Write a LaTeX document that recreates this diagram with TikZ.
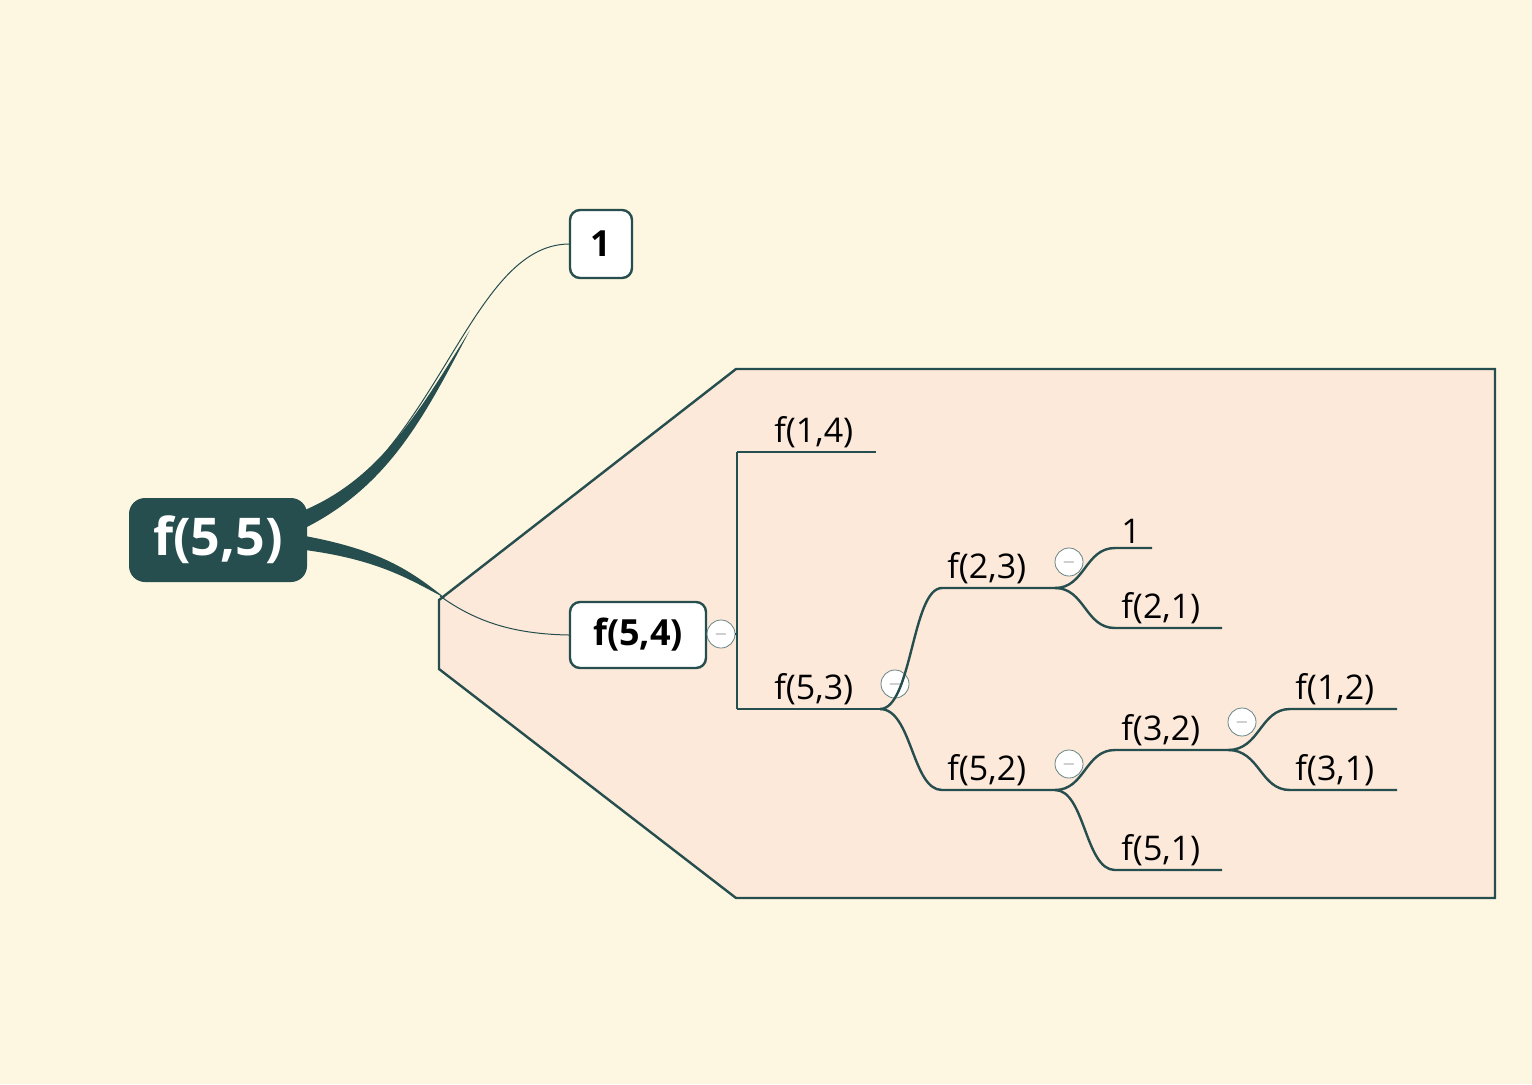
\documentclass[tikz,border=0pt]{standalone}
\usepackage{fontspec}
\setmainfont{Open Sans}
\usetikzlibrary{positioning}
\definecolor{bgcol}{RGB}{253,247,226}
\definecolor{darkteal}{RGB}{38,78,78}
\definecolor{boundcol}{RGB}{252,233,218}
\tikzset{
  topic/.style={anchor=south west,inner sep=2pt,font=\fontsize{17}{20}\selectfont},
  boxtopic/.style={draw=darkteal,line width=1.2pt,fill=white,rounded corners=5pt,font=\bfseries\fontsize{18}{20}\selectfont,inner sep=0pt},
  fold/.style={circle,draw=darkteal!70,fill=white,minimum size=14pt,inner sep=0pt,line width=0.4pt,font=\fontsize{8}{8}\selectfont,text=gray},
  branch/.style={draw=darkteal,line width=1.2pt},
}
\begin{document}
\begin{tikzpicture}[x=0.5pt,y=-0.5pt]
\fill[bgcol] (0,0) rectangle (1532,1084);
\useasboundingbox (0,0) rectangle (1532,1084);
% boundary
\draw[darkteal,line width=1.2pt,fill=boundcol] (736,369) -- (1495,369) -- (1495,898) -- (736,898) -- (439,669) -- (439,600) -- cycle;
% main nodes
\node[fill=darkteal,rounded corners=8pt,minimum width=89pt,minimum height=42pt,text=white,font=\bfseries\fontsize{26}{28}\selectfont] (root) at (218,540) {f(5,5)};
\node[boxtopic,minimum width=31pt,minimum height=34pt] (one) at (601,244) {1};
\node[boxtopic,minimum width=68pt,minimum height=33pt] (f54) at (638,635) {f(5,4)};
% tapered branches
\fill[darkteal] (300,512) .. controls (380,480) and (420,410) .. (470,330) .. controls (425,415) and (390,485) .. (305,528) -- cycle;
\draw[darkteal,line width=0.5pt] (305,520) .. controls (440,450) and (470,245) .. (one.west);
\fill[darkteal] (305,536) .. controls (380,550) and (410,570) .. (445,598) .. controls (410,580) and (380,560) .. (305,550) -- cycle;
\draw[darkteal,line width=0.5pt] (440,596) .. controls (480,625) and (520,634) .. (f54.west);
% fold markers
\node[fold] (c54) at (721,634) {$-$};
\node[fold] (c53) at (895,684) {$-$};
\node[fold] (c23) at (1069,562) {$-$};
\node[fold] (c52) at (1069,764) {$-$};
\node[fold] (c32) at (1242,722) {$-$};
% subtopics
\node[topic] (f14) at (770,452) {f(1,4)};
\node[topic] (f53) at (770,709) {f(5,3)};
\node[topic] (f23) at (943,588) {f(2,3)};
\node[topic] (f52) at (943,790) {f(5,2)};
\node[topic] (n1) at (1117,548) {1};
\node[topic] (f21) at (1117,628) {f(2,1)};
\node[topic] (f32) at (1117,750) {f(3,2)};
\node[topic] (f51) at (1117,870) {f(5,1)};
\node[topic] (f12) at (1291,709) {f(1,2)};
\node[topic] (f31) at (1291,790) {f(3,1)};
% connectors
\draw[branch] (c54.east) -- (737,634);
\draw[branch] (737,452) -- (737,709);
\draw[branch] (737,452) -- (876,452);
\draw[branch] (737,709) -- (880,709);
\draw[branch] (880,709) .. controls (912,709) and (912,588) .. (942,588) -- (1055,588);
\draw[branch] (880,709) .. controls (912,709) and (912,790) .. (942,790) -- (1055,790);
\draw[branch] (1055,588) .. controls (1085,588) and (1085,548) .. (1115,548) -- (1152,548);
\draw[branch] (1055,588) .. controls (1085,588) and (1085,628) .. (1115,628) -- (1222,628);
\draw[branch] (1055,790) .. controls (1085,790) and (1085,750) .. (1115,750) -- (1228,750);
\draw[branch] (1055,790) .. controls (1085,790) and (1085,870) .. (1115,870) -- (1222,870);
\draw[branch] (1228,750) .. controls (1260,750) and (1260,709) .. (1290,709) -- (1397,709);
\draw[branch] (1228,750) .. controls (1260,750) and (1260,790) .. (1290,790) -- (1397,790);
\end{tikzpicture}
\end{document}
